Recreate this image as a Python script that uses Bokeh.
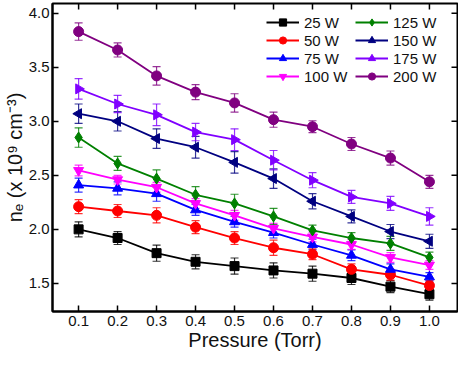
import math
from bokeh.plotting import figure
from bokeh.models import (ColumnDataSource, Whisker, TeeHead, Legend, LegendItem,
                          Range1d, FixedTicker, NumeralTickFormatter)
from bokeh.embed import file_html
from bokeh.resources import INLINE

pressure = [0.1, 0.2, 0.3, 0.4, 0.5, 0.6, 0.7, 0.8, 0.9, 1.0]
x_ticks = [0.1, 0.2, 0.3, 0.4, 0.5, 0.6, 0.7, 0.8, 0.9, 1.0]
y_ticks = [1.5, 2.0, 2.5, 3.0, 3.5, 4.0]

labels = ["25 W", "50 W", "75 W", "100 W", "125 W", "150 W", "175 W", "200 W"]
ne_25 = [2.00, 1.92, 1.78, 1.70, 1.66, 1.62, 1.59, 1.55, 1.47, 1.40]
err_25 = [0.07, 0.06, 0.075, 0.065, 0.075, 0.07, 0.07, 0.06, 0.055, 0.055]
ne_50 = [2.21, 2.17, 2.13, 2.02, 1.92, 1.83, 1.77, 1.63, 1.58, 1.48]
err_50 = [0.065, 0.06, 0.07, 0.06, 0.06, 0.07, 0.05, 0.05, 0.05, 0.045]
ne_75 = [2.41, 2.38, 2.33, 2.18, 2.07, 1.97, 1.86, 1.76, 1.63, 1.56]
err_75 = [0.065, 0.06, 0.07, 0.05, 0.05, 0.05, 0.05, 0.05, 0.05, 0.04]
ne_100 = [2.545, 2.46, 2.39, 2.24, 2.13, 2.01, 1.93, 1.86, 1.74, 1.67]
err_100 = [0.05, 0.04, 0.045, 0.045, 0.045, 0.045, 0.045, 0.045, 0.045, 0.04]
ne_125 = [2.85, 2.61, 2.47, 2.32, 2.24, 2.12, 1.99, 1.92, 1.87, 1.74]
err_125 = [0.09, 0.065, 0.08, 0.075, 0.085, 0.075, 0.05, 0.05, 0.065, 0.05]
ne_150 = [3.07, 3.00, 2.84, 2.76, 2.62, 2.47, 2.26, 2.12, 1.98, 1.89]
err_150 = [0.09, 0.09, 0.09, 0.1, 0.1, 0.09, 0.07, 0.06, 0.065, 0.065]
ne_175 = [3.30, 3.16, 3.06, 2.90, 2.83, 2.64, 2.455, 2.30, 2.24, 2.12]
err_175 = [0.095, 0.08, 0.1, 0.08, 0.1, 0.09, 0.07, 0.06, 0.065, 0.08]
ne_200 = [3.83, 3.66, 3.42, 3.27, 3.17, 3.015, 2.95, 2.79, 2.66, 2.44]
err_200 = [0.08, 0.065, 0.085, 0.07, 0.085, 0.07, 0.055, 0.06, 0.065, 0.06]

series = [ne_25, ne_50, ne_75, ne_100, ne_125, ne_150, ne_175, ne_200]
errors = [err_25, err_50, err_75, err_100, err_125, err_150, err_175, err_200]
colors = ["#000000", "#ff0000", "#0000ff", "#ff00ff", "#008000", "#000080", "#8000ff", "#800080"]
markers = ["square", "circle", "triangle", "inverted_triangle", "diamond", "triangle", "triangle", "circle"]
angles = [0, 0, 0, 0, 0, math.pi / 2, -math.pi / 2, 0]
sizes = [9, 10, 10, 10, 11, 10, 10, 10]

FONT = "Liberation Sans"
X0, X1 = 0.033, 1.072
Y0, Y1 = 1.24, 4.09

p = figure(width=458, height=353, output_backend="svg", toolbar_location=None,
           x_range=Range1d(X0, X1), y_range=Range1d(Y0, Y1),
           min_border_left=0, min_border_right=1, min_border_top=3, min_border_bottom=0)
p.grid.visible = False
p.background_fill_color = "white"
p.border_fill_color = "white"
p.outline_line_color = "black"
p.outline_line_width = 2

for ax, ticks in ((p.xaxis[0], x_ticks), (p.yaxis[0], y_ticks)):
    ax.ticker = FixedTicker(ticks=ticks)
    ax.formatter = NumeralTickFormatter(format="0.0")
    ax.major_tick_in = 6
    ax.major_tick_out = 0
    ax.minor_tick_in = 0
    ax.minor_tick_out = 0
    ax.axis_line_width = 2
    ax.major_tick_line_width = 1.5
    ax.major_label_text_font = FONT
    ax.major_label_text_font_size = "15px"
    ax.major_label_text_color = "#111111"
    ax.axis_label_text_font = FONT
    ax.axis_label_text_font_size = "20px"
    ax.axis_label_text_font_style = "normal"
    ax.axis_label_text_color = "#111111"

p.xaxis[0].axis_label = "Pressure (Torr)"
p.xaxis[0].major_label_standoff = 4
p.xaxis[0].axis_label_standoff = 0
p.yaxis[0].axis_label = "nₑ (x 10⁹ cm⁻³)"
p.yaxis[0].major_label_standoff = 3
p.yaxis[0].axis_label_standoff = 0

# inward ticks on the top and right frame edges (dash markers clipped by the frame)
p.scatter(x_ticks, [Y1] * len(x_ticks), marker="dash", angle=math.pi / 2, size=12,
          line_color="black", line_width=1.5)
p.scatter([X1] * len(y_ticks), y_ticks, marker="dash", size=12,
          line_color="black", line_width=1.5)

items = []
for lab, ys, es, c, m, a, s in zip(labels, series, errors, colors, markers, angles, sizes):
    src = ColumnDataSource(dict(x=pressure, y=ys,
                                upper=[v + e for v, e in zip(ys, es)],
                                lower=[v - e for v, e in zip(ys, es)]))
    w = Whisker(source=src, base="x", upper="upper", lower="lower",
                line_color=c, line_width=1.2, line_alpha=0.8,
                upper_head=TeeHead(size=8, line_color=c, line_width=1.2, line_alpha=0.8),
                lower_head=TeeHead(size=8, line_color=c, line_width=1.2, line_alpha=0.8))
    p.add_layout(w)
    lr = p.line("x", "y", source=src, line_color=c, line_width=1.8)
    sr = p.scatter("x", "y", source=src, marker=m, angle=a, size=s,
                   fill_color=c, line_color=c)
    items.append(LegendItem(label=lab, renderers=[lr, sr]))

def make_legend(its, loc):
    lg = Legend(items=its, location=loc, orientation="vertical",
                label_text_font=FONT, label_text_font_size="15px",
                label_text_color="#111111",
                glyph_width=33, glyph_height=18, label_height=18,
                label_standoff=5, spacing=0, padding=0, margin=0,
                border_line_color=None, background_fill_alpha=0)
    return lg

p.add_layout(make_legend(items[:4], (214, 226)))
p.add_layout(make_legend(items[4:], (303, 226)))

open("out.html", "w").write(file_html(p, INLINE))
